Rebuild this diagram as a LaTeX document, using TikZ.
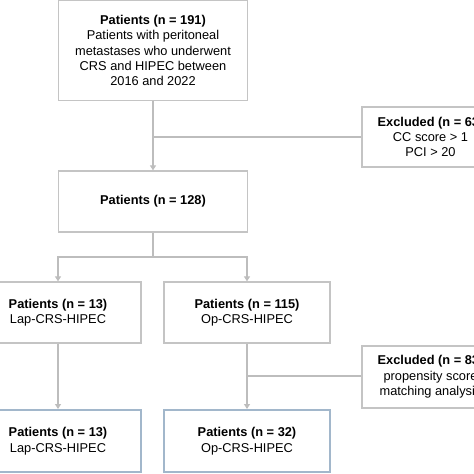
\documentclass[tikz,border=0pt]{standalone}
\usepackage{fontspec}
\setmainfont{Liberation Sans}
\usetikzlibrary{arrows.meta}
\definecolor{boxgray}{HTML}{C4C4C4}
\definecolor{linegray}{HTML}{BDBDBD}
\definecolor{boxblue}{HTML}{A2B7CB}
\tikzset{
  flowbox/.style={draw=boxgray, line width=1.3pt, fill=white, inner sep=0pt, align=center,
    font=\fontsize{12.8}{15.4}\selectfont, text=black},
  finalbox/.style={flowbox, draw=boxblue, line width=2pt},
  conn/.style={draw=linegray, line width=1.3pt},
  arr/.style={conn, -{Triangle[length=5pt,width=6pt]}}
}
\begin{document}
\begin{tikzpicture}[x=1pt,y=-1pt]
\useasboundingbox (0,0) rectangle (474,474);
\node[flowbox, minimum width=189.5pt, minimum height=99.5pt] (b1) at (153,50.5)
  {\textbf{Patients (n = 191)}\\Patients with peritoneal\\metastases who underwent\\CRS and HIPEC between\\2016 and 2022};
\node[flowbox, minimum width=137pt, minimum height=60pt] (ex1) at (430.5,137)
  {\textbf{Excluded (n = 63)}\\CC score > 1\\PCI > 20};
\node[flowbox, minimum width=189.5pt, minimum height=61pt] (b2) at (153,201.5)
  {\textbf{Patients (n = 128)}};
\node[flowbox, minimum width=166pt, minimum height=61pt] (b3l) at (58,312.5)
  {\textbf{Patients (n = 13)}\\Lap-CRS-HIPEC};
\node[flowbox, minimum width=166pt, minimum height=61pt] (b3r) at (247,312.5)
  {\textbf{Patients (n = 115)}\\Op-CRS-HIPEC};
\node[flowbox, minimum width=137pt, minimum height=62pt] (ex2) at (430.5,377)
  {\textbf{Excluded (n = 83)}\\propensity score\\matching analysis};
\node[finalbox, minimum width=166pt, minimum height=62pt] (b4l) at (58,441)
  {\textbf{Patients (n = 13)}\\Lap-CRS-HIPEC};
\node[finalbox, minimum width=166pt, minimum height=62pt] (b4r) at (247,441)
  {\textbf{Patients (n = 32)}\\Op-CRS-HIPEC};
\coordinate (j1) at (153,137);
\coordinate (s1) at (153,257);
\coordinate (j2) at (247,376);
\draw[arr] (b1.south) -- (b2.north);
\draw[conn] (j1) -- (ex1.west |- j1);
\draw[conn] (b2.south) -- (s1);
\draw[arr] (s1) -| (b3l.north);
\draw[arr] (s1) -| (b3r.north);
\draw[arr] (b3l.south) -- (b4l.north);
\draw[arr] (b3r.south) -- (b4r.north);
\draw[conn] (j2) -- (ex2.west |- j2);
\end{tikzpicture}
\end{document}
